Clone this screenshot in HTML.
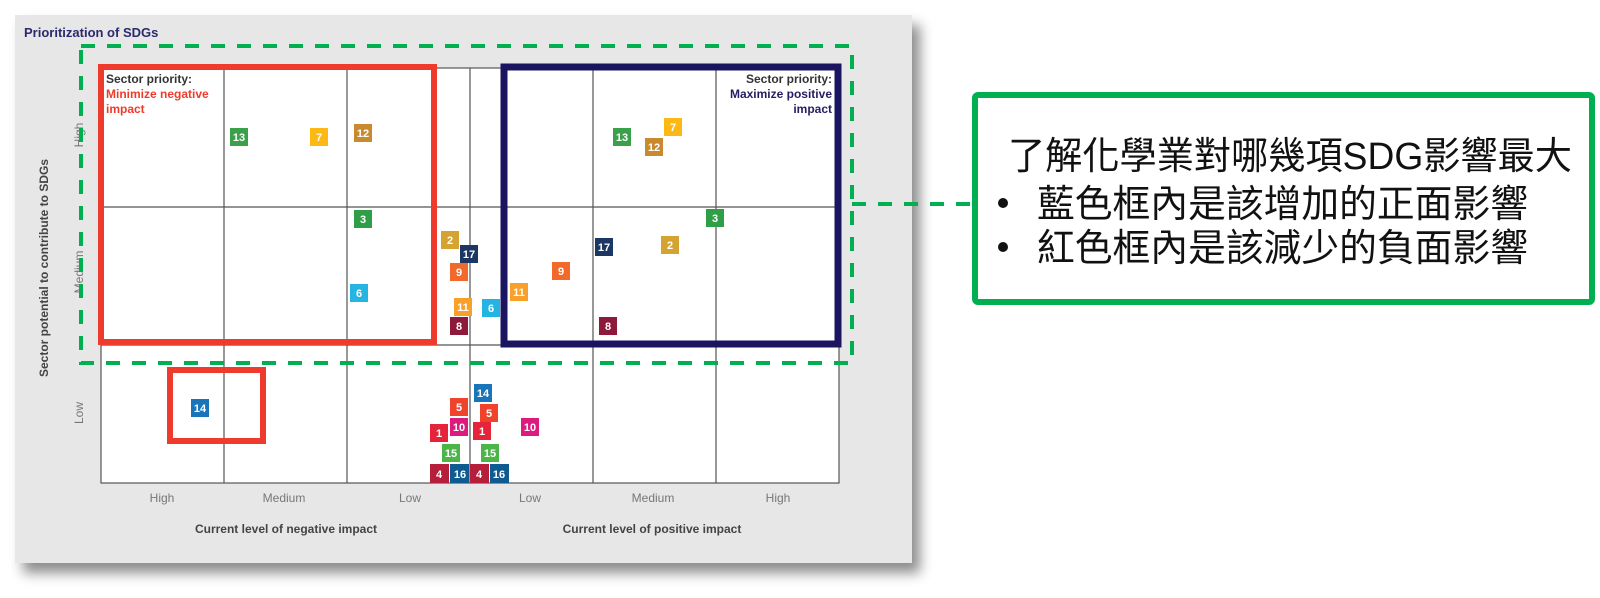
<!DOCTYPE html>
<html><head><meta charset="utf-8"><style>
html,body{margin:0;padding:0;background:#fff;width:1600px;height:598px;overflow:hidden}
#panel{position:absolute;left:15px;top:15px;width:897px;height:548px;background:#e7e7e7;box-shadow:8px 10px 12px rgba(0,0,0,0.45)}
svg{position:absolute;left:0;top:0}
</style></head><body>
<div id="panel"></div>
<svg width="1600" height="598" viewBox="0 0 1600 598" font-family="Liberation Sans, sans-serif">
<text x="24" y="37" font-size="13" font-weight="bold" fill="#2b2a6e">Prioritization of SDGs</text>
<!-- plot -->
<rect x="101" y="68" width="738" height="415" fill="#fff" stroke="#555" stroke-width="1.2"/>
<g stroke="#555" stroke-width="1.2">
<line x1="224" y1="68" x2="224" y2="483"/><line x1="347" y1="68" x2="347" y2="483"/>
<line x1="470" y1="68" x2="470" y2="483"/><line x1="593" y1="68" x2="593" y2="483"/>
<line x1="716" y1="68" x2="716" y2="483"/>
<line x1="101" y1="207" x2="839" y2="207"/><line x1="101" y1="345" x2="839" y2="345"/>
</g>
<!-- axis labels -->
<g fill="#777" font-size="12">
<text transform="translate(83,135) rotate(-90)" text-anchor="middle">High</text>
<text transform="translate(83,272) rotate(-90)" text-anchor="middle">Medium</text>
<text transform="translate(83,413) rotate(-90)" text-anchor="middle">Low</text>
<text x="162" y="502" text-anchor="middle">High</text>
<text x="284" y="502" text-anchor="middle">Medium</text>
<text x="410" y="502" text-anchor="middle">Low</text>
<text x="530" y="502" text-anchor="middle">Low</text>
<text x="653" y="502" text-anchor="middle">Medium</text>
<text x="778" y="502" text-anchor="middle">High</text>
</g>
<g fill="#444" font-size="12" font-weight="bold">
<text transform="translate(48,268) rotate(-90)" text-anchor="middle">Sector potential to contribute to SDGs</text>
<text x="286" y="533" text-anchor="middle">Current level of negative impact</text>
<text x="652" y="533" text-anchor="middle">Current level of positive impact</text>
</g>
<!-- sector priority texts -->
<g font-size="12" font-weight="bold">
<text x="106" y="83" fill="#333">Sector priority:</text>
<text x="106" y="98" fill="#ef3b2c">Minimize negative</text>
<text x="106" y="113" fill="#ef3b2c">impact</text>
<text x="832" y="83" fill="#333" text-anchor="end">Sector priority:</text>
<text x="832" y="98" fill="#241d63" text-anchor="end">Maximize positive</text>
<text x="832" y="113" fill="#241d63" text-anchor="end">impact</text>
</g>
<!-- squares -->
<g font-size="11" font-weight="bold" fill="#fff" text-anchor="middle">
<g id="sq"></g>
</g>
<g font-size="11" font-weight="bold" text-anchor="middle">
<rect x="230" y="128" width="18" height="18" fill="#3aa14a"/><text x="239" y="141" fill="#fff">13</text>
<rect x="310" y="128" width="18" height="18" fill="#fcb813"/><text x="319" y="141" fill="#fff">7</text>
<rect x="354" y="124" width="18" height="18" fill="#c98a2e"/><text x="363" y="137" fill="#fff">12</text>
<rect x="354" y="210" width="18" height="18" fill="#2e9e47"/><text x="363" y="223" fill="#fff">3</text>
<rect x="350" y="284" width="18" height="18" fill="#26b5e2"/><text x="359" y="297" fill="#fff">6</text>
<rect x="441" y="231" width="18" height="18" fill="#d4a332"/><text x="450" y="244" fill="#fff">2</text>
<rect x="450" y="263" width="18" height="18" fill="#f26a2b"/><text x="459" y="276" fill="#fff">9</text>
<rect x="460" y="245" width="18" height="18" fill="#1c3764"/><text x="469" y="258" fill="#fff">17</text>
<rect x="454" y="298" width="18" height="18" fill="#f9a02a"/><text x="463" y="311" fill="#fff">11</text>
<rect x="482" y="299" width="18" height="18" fill="#23b4e2"/><text x="491" y="312" fill="#fff">6</text>
<rect x="450" y="317" width="18" height="18" fill="#8e1a3b"/><text x="459" y="330" fill="#fff">8</text>
<rect x="613" y="128" width="18" height="18" fill="#3aa14a"/><text x="622" y="141" fill="#fff">13</text>
<rect x="664" y="118" width="18" height="18" fill="#fcb813"/><text x="673" y="131" fill="#fff">7</text>
<rect x="645" y="138" width="18" height="18" fill="#c98a2e"/><text x="654" y="151" fill="#fff">12</text>
<rect x="706" y="209" width="18" height="18" fill="#2e9e47"/><text x="715" y="222" fill="#fff">3</text>
<rect x="661" y="236" width="18" height="18" fill="#d4a332"/><text x="670" y="249" fill="#fff">2</text>
<rect x="595" y="238" width="18" height="18" fill="#1c3764"/><text x="604" y="251" fill="#fff">17</text>
<rect x="552" y="262" width="18" height="18" fill="#f26a2b"/><text x="561" y="275" fill="#fff">9</text>
<rect x="510" y="283" width="18" height="18" fill="#f9a02a"/><text x="519" y="296" fill="#fff">11</text>
<rect x="599" y="317" width="18" height="18" fill="#8e1a3b"/><text x="608" y="330" fill="#fff">8</text>
<rect x="191" y="399" width="18" height="18" fill="#1a74b8"/><text x="200" y="412" fill="#fff">14</text>
<rect x="474" y="384" width="18" height="18" fill="#1a74b8"/><text x="483" y="397" fill="#fff">14</text>
<rect x="450" y="398" width="18" height="18" fill="#f0432b"/><text x="459" y="411" fill="#fff">5</text>
<rect x="480" y="404" width="18" height="18" fill="#f0432b"/><text x="489" y="417" fill="#fff">5</text>
<rect x="450" y="418" width="18" height="18" fill="#dd1a7e"/><text x="459" y="431" fill="#fff">10</text>
<rect x="521" y="418" width="18" height="18" fill="#dd1a7e"/><text x="530" y="431" fill="#fff">10</text>
<rect x="430" y="424" width="18" height="18" fill="#e5243b"/><text x="439" y="437" fill="#fff">1</text>
<rect x="473" y="422" width="18" height="18" fill="#e5243b"/><text x="482" y="435" fill="#fff">1</text>
<rect x="442" y="444" width="18" height="18" fill="#4bb548"/><text x="451" y="457" fill="#fff">15</text>
<rect x="481" y="444" width="18" height="18" fill="#4bb548"/><text x="490" y="457" fill="#fff">15</text>
<rect x="430" y="464" width="19" height="19" fill="#b51f3a"/><text x="439" y="478" fill="#fff">4</text>
<rect x="450" y="464" width="19" height="19" fill="#0f5a8f"/><text x="460" y="478" fill="#fff">16</text>
<rect x="470" y="464" width="19" height="19" fill="#b51f3a"/><text x="479" y="478" fill="#fff">4</text>
<rect x="490" y="464" width="19" height="19" fill="#0f5a8f"/><text x="499" y="478" fill="#fff">16</text>
</g>
<!-- priority boxes -->
<rect x="101" y="67" width="333" height="275" fill="none" stroke="#ee3b2e" stroke-width="6"/>
<rect x="504" y="67" width="334" height="277" fill="none" stroke="#1b1460" stroke-width="7"/>
<rect x="170" y="370" width="93" height="71" fill="none" stroke="#ee3b2e" stroke-width="6"/>
<!-- green dashed -->
<rect x="81" y="46" width="771" height="317" fill="none" stroke="#00b050" stroke-width="4" stroke-dasharray="14 12"/>
<line x1="852" y1="204" x2="975" y2="204" stroke="#00b050" stroke-width="4" stroke-dasharray="14 12"/>
<!-- right box -->
<rect x="975" y="95" width="617" height="207" rx="3" fill="#fff" stroke="#00b050" stroke-width="6"/>
<g font-family="Liberation Sans, Noto Sans CJK TC, sans-serif" fill="#111">
<text x="1008" y="169" font-size="38" textLength="564" lengthAdjust="spacingAndGlyphs">了解化學業對哪幾項SDG影響最大</text>
<circle cx="1003" cy="203" r="5"/>
<text x="1037" y="217" font-size="38" textLength="491" lengthAdjust="spacingAndGlyphs">藍色框內是該增加的正面影響</text>
<circle cx="1003" cy="247" r="5"/>
<text x="1037" y="261" font-size="38" textLength="491" lengthAdjust="spacingAndGlyphs">紅色框內是該減少的負面影響</text>
</g>
</svg>
</body></html>
